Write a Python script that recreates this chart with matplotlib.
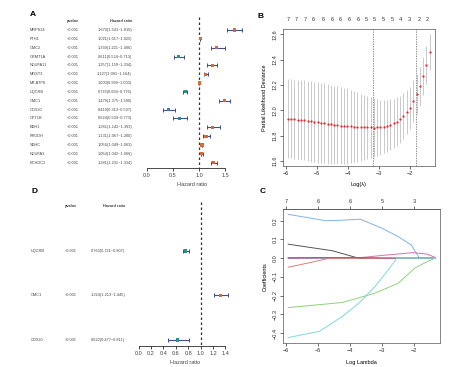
import numpy as np
import matplotlib
matplotlib.use("Agg")
import matplotlib.pyplot as plt
import matplotlib.transforms as mtransforms

plt.rcParams["font.family"] = ["Liberation Sans", "DejaVu Sans"]

# ---------------- data ----------------
# Panel A: univariate Cox
genes_a = ["MRPS24", "FTH1", "CMC2", "CRMT1A", "NDUFA11", "MGST3", "MT-ATP8", "UQCRB",
           "CMC1", "COX20", "CPT1B", "BDH1", "PRODH", "SDHC", "NDUFA3", "ECHDC2"]
pval_a = ["<0.001"] * 16
hr_a = [1.670, 1.021, 1.339, 0.611, 1.257, 1.127, 1.000, 0.733,
        1.479, 0.410, 0.624, 1.261, 1.131, 1.056, 1.054, 1.281]
lo_a = [1.541, 1.017, 1.221, 0.524, 1.159, 1.091, 0.999, 0.693,
        1.375, 0.313, 0.504, 1.142, 1.067, 1.049, 1.042, 1.231]
hi_a = [1.810, 1.025, 1.496, 0.713, 1.334, 1.164, 1.000, 0.776,
        1.590, 0.537, 0.773, 1.393, 1.200, 1.063, 1.066, 1.334]

# Panel D: multivariate Cox
genes_d = ["UQCRB", "CMC1", "COX20"]
pval_d = ["<0.001"] * 3
hr_d = [0.763, 1.324, 0.622]
lo_d = [0.721, 1.213, 0.477]
hi_d = [0.807, 1.445, 0.811]

# Panel B: cross-validation curve
cv_loglam = [-5.93, -5.82, -5.72, -5.61, -5.50, -5.40, -5.29, -5.19, -5.08, -4.97, -4.87,
             -4.76, -4.65, -4.55, -4.44, -4.34, -4.23, -4.12, -4.02, -3.91, -3.80, -3.70,
             -3.59, -3.49, -3.38, -3.27, -3.17, -3.06, -2.95, -2.85, -2.74, -2.63, -2.53,
             -2.42, -2.32, -2.21, -2.10, -2.00, -1.89, -1.78, -1.68, -1.57, -1.47, -1.36]
cv_mean = [11.935, 11.933, 11.931, 11.928, 11.925, 11.922, 11.918, 11.914, 11.910, 11.906,
           11.902, 11.898, 11.894, 11.890, 11.887, 11.884, 11.881, 11.878, 11.876, 11.874,
           11.872, 11.870, 11.868, 11.867, 11.866, 11.866, 11.865, 11.866, 11.869, 11.873,
           11.879, 11.887, 11.898, 11.912, 11.930, 11.955, 11.985, 12.020, 12.075, 12.130,
           12.190, 12.270, 12.360, 12.460]
cv_sd = [0.310, 0.311, 0.312, 0.313, 0.314, 0.315, 0.316, 0.317, 0.317, 0.317, 0.316,
         0.315, 0.313, 0.311, 0.309, 0.306, 0.303, 0.300, 0.297, 0.290, 0.282, 0.273,
         0.264, 0.255, 0.246, 0.237, 0.230, 0.223, 0.217, 0.211, 0.206, 0.201, 0.196,
         0.191, 0.186, 0.180, 0.174, 0.168, 0.163, 0.158, 0.154, 0.151, 0.148, 0.145]
lambda_min = -3.20
lambda_1se = -1.82
top_pos_b = [-5.93, -5.66, -5.37, -5.10, -4.80, -4.51, -4.24, -3.96, -3.67, -3.40,
             -3.14, -2.85, -2.57, -2.30, -2.01, -1.72, -1.45]
top_lab_b = ["7", "7", "7", "6", "6", "6", "6", "6", "6", "5", "5", "5", "5", "4", "3", "2", "2"]

# Panel C: coefficient paths (points read along each path)
paths = {
    "blue":    ([-5.93, -4.75, -4.24, -3.68, -3.01, -2.50, -2.09, -1.84, -1.36],
                [0.234, 0.200, 0.203, 0.208, 0.160, 0.115, 0.070, 0.000, 0.000]),
    "black":   ([-5.93, -4.55, -3.73, -1.36],
                [0.075, 0.040, 0.000, 0.000]),
    "magenta": ([-5.93, -3.70, -3.00, -2.04, -1.60, -1.36],
                [0.000, 0.003, 0.015, 0.030, 0.022, 0.005]),
    "purple":  ([-5.93, -3.70, -2.55, -1.36],
                [0.002, 0.002, 0.000, 0.000]),
    "red":     ([-5.93, -5.30, -4.65, -1.36],
                [-0.048, -0.025, 0.000, 0.000]),
    "green":   ([-5.93, -4.24, -3.22, -2.50, -1.99, -1.60, -1.36],
                [-0.263, -0.236, -0.186, -0.133, -0.053, -0.018, 0.000]),
    "cyan":    ([-5.93, -4.96, -4.24, -3.73, -3.22, -2.81, -2.55, -1.36],
                [-0.423, -0.390, -0.310, -0.240, -0.150, -0.062, 0.000, 0.000]),
}
path_colors = {"blue": "#7fb3e6", "black": "#555555", "magenta": "#d86fb0",
               "purple": "#4b3a7a", "red": "#df7a7a", "green": "#8fd17f", "cyan": "#7fd8e0"}
top_pos_c = [-6, -5, -4, -3, -2]
top_lab_c = ["7", "6", "6", "5", "3"]

# ---------------- layout ----------------
W, H = 474, 367
fig = plt.figure(figsize=(W / 100, H / 100), dpi=100)
fig.patch.set_facecolor("white")


def px_axes(left, top, right, bottom):
    return fig.add_axes([left / W, 1 - bottom / H, (right - left) / W, (bottom - top) / H])


txt_col = "#444444"
bar_col = "#3f4f8f"
up_col = "#d9693c"
down_col = "#2c8f8a"
tfs = 2.8  # table font size


def forest(ax, genes, pvals, hr, lo, hi, cols_px, ticks, ticklabels, header_row, line_top):
    rows = np.arange(len(genes))
    hr = np.array(hr)
    lo = np.array(lo)
    hi = np.array(hi)
    ax.errorbar(hr, rows, xerr=[hr - lo, hi - hr], fmt="none", ecolor=bar_col,
                elinewidth=0.8, capsize=1.4, capthick=0.7, zorder=2)
    mcols = [up_col if v >= 1 else down_col for v in hr]
    ax.scatter(hr, rows, s=5, marker="s", c=mcols, zorder=3, linewidths=0)
    ax.plot([1, 1], [line_top, ax.get_ylim()[0]], ls=(0, (2, 2)), color="#333333", lw=0.9)
    for s in ["top", "right", "left"]:
        ax.spines[s].set_visible(False)
    ax.spines["bottom"].set_bounds(ticks[0], ticks[-1])
    ax.spines["bottom"].set_linewidth(0.5)
    ax.set_yticks([])
    ax.set_xticks(ticks)
    ax.set_xticklabels(ticklabels, fontsize=4, color=txt_col)
    ax.tick_params(axis="x", length=2, width=0.5, pad=1.5)
    ax.set_xlabel("Hazard ratio", fontsize=4, color=txt_col, labelpad=3)
    ax.patch.set_alpha(0)
    tr = mtransforms.blended_transform_factory(fig.transFigure, ax.transData)
    gx, px_, hx = cols_px
    ax.text(px_ / W, header_row, "pvalue", transform=tr, fontsize=tfs, fontweight="bold",
            color=txt_col, va="center", ha="left")
    ax.text(hx / W, header_row, "Hazard ratio", transform=tr, fontsize=tfs, fontweight="bold",
            color=txt_col, va="center", ha="right")
    for i, g in enumerate(genes):
        ax.text(gx / W, i, g, transform=tr, fontsize=tfs, color=txt_col, va="center", ha="left")
        ax.text(px_ / W, i, pvals[i], transform=tr, fontsize=tfs, color=txt_col, va="center")
        ax.text(hx / W, i, f"{hr[i]:.3f}({lo[i]:.3f}~{hi[i]:.3f})", transform=tr,
                fontsize=tfs, color=txt_col, va="center", ha="right")


# Panel A
axA = px_axes(140, 15, 245, 168)
axA.set_xlim(-0.128, 1.876)
axA.set_ylim(15.6, -1.69)
forest(axA, genes_a, pval_a, hr_a, lo_a, hi_a, (30, 67, 132),
       [0, 0.5, 1.0, 1.5], ["0.0", "0.5", "1.0", "1.5"], -1.02, -1.43)

# Panel D
axD = px_axes(132, 198, 238, 345.7)
axD.set_xlim(-0.108, 1.605)
axD.set_ylim(2.128, -1.19)
forest(axD, genes_d, pval_d, hr_d, lo_d, hi_d, (30.7, 64.3, 125),
       [0, 0.2, 0.4, 0.6, 0.8, 1.0, 1.2, 1.4],
       ["0.0", "0.2", "0.4", "0.6", "0.8", "1.0", "1.2", "1.4"], -1.02, -1.1)


def r_style(ax):
    for s in ax.spines.values():
        s.set_linewidth(0.5)
        s.set_color("#555555")
    ax.tick_params(length=2, width=0.5, pad=1.5, labelsize=4, colors="#333333")
    for lab in ax.get_yticklabels():
        lab.set_rotation(90)
        lab.set_va("center")


# Panel B
axB = px_axes(282.7, 29.3, 435, 165.7)
axB.errorbar(cv_loglam, cv_mean, yerr=cv_sd, fmt="o", color="#e0282c", ms=1.6, mew=0,
             ecolor="#b5b5b5", elinewidth=0.5, capsize=1.0, capthick=0.5, zorder=3)
axB.axvline(lambda_min, color="#666666", lw=0.5, ls=(0, (2, 1.5)))
axB.axvline(lambda_1se, color="#666666", lw=0.5, ls=(0, (2, 1.5)))
axB.set_xlim(-6.097, -1.195)
axB.set_ylim(11.565, 12.639)
axB.set_xticks([-6, -5, -4, -3, -2])
axB.set_yticks([11.6, 11.8, 12.0, 12.2, 12.4, 12.6])
axB.set_xlabel("Log(λ)", fontsize=4, labelpad=4.5)
axB.set_ylabel("Partial Likelihood Deviance", fontsize=4, labelpad=4)
r_style(axB)
topB = axB.secondary_xaxis("top")
topB.set_xticks(top_pos_b)
topB.set_xticklabels(top_lab_b)
topB.tick_params(length=0, pad=5, labelsize=4, colors="#333333")
topB.spines["top"].set_visible(False)

# Panel C
axC = px_axes(282.7, 209.3, 440, 343)
for name, (xs, ys) in paths.items():
    axC.plot(xs, ys, color=path_colors[name], lw=0.7)
axC.set_xlim(-6.1, -1.2)
axC.set_ylim(-0.452, 0.261)
axC.set_xticks([-6, -5, -4, -3, -2])
axC.set_yticks([-0.4, -0.3, -0.2, -0.1, 0.0, 0.1, 0.2])
axC.set_xlabel("Log Lambda", fontsize=4, labelpad=5)
axC.set_ylabel("Coefficients", fontsize=4, labelpad=4)
r_style(axC)
topC = axC.secondary_xaxis("top")
topC.set_xticks(top_pos_c)
topC.set_xticklabels(top_lab_c)
topC.tick_params(length=2, width=0.5, pad=1.5, labelsize=4, colors="#333333")
topC.spines["top"].set_linewidth(0.5)
topC.spines["top"].set_color("#555555")

# panel letters
for lab, x, y in [("A", 33, 15), ("B", 261, 16), ("C", 263, 192), ("D", 35, 192)]:
    fig.text(x / W, 1 - y / H, lab, fontsize=6, fontweight="bold", ha="center", va="center")

fig.savefig("out.png", dpi=100)
